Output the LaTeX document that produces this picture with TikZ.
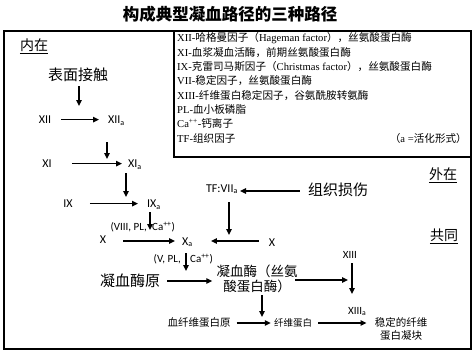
\documentclass[tikz,border=0pt]{standalone}
\usepackage{fontspec}
\setmainfont{Liberation Serif}
\newfontfamily\cjk{Noto Sans CJK SC}
\newfontfamily\labfont{Carlito}
\usetikzlibrary{arrows.meta}
\newcommand\myzh[1]{{\cjk #1}}
\tikzset{
  lab/.style={font=\labfont\fontsize{12}{14}\selectfont, inner sep=0pt},
  big/.style={font=\cjk\fontsize{15}{17}\selectfont, inner sep=0pt},
  mid/.style={font=\cjk\fontsize{13.5}{16}\selectfont, inner sep=0pt, align=center},
  sm/.style={font=\cjk\fontsize{10.5}{14}\selectfont, inner sep=0pt, align=center},
  leg/.style={font=\fontsize{10.6}{13}\selectfont, anchor=west, inner sep=0pt},
  arr/.style={-{Triangle[length=6pt,width=5.5pt]}, line width=1.3pt},
  frame/.style={line width=1.6pt},
  ul/.style={line width=0.6pt},
}
\begin{document}
\begin{tikzpicture}[x=1pt,y=-1pt]
\useasboundingbox (0,0) rectangle (474,356);
% title
\node[font=\cjk\bfseries\fontsize{16.5}{18}\selectfont, inner sep=0pt] (title) at (230,14) {构成典型凝血路径的三种路径};
% frames
\draw[frame] (4,31) rectangle (471,349);
\draw[frame] (174,31) rectangle (471,157);
% legend
\node[leg] (l1) at (177,38) {XII-\myzh{哈格曼因子（}Hageman factor\myzh{），丝氨酸蛋白酶}};
\node[leg] (l2) at (177,52.3) {XI-\myzh{血浆凝血活酶，前期丝氨酸蛋白酶}};
\node[leg] (l3) at (177,66.6) {IX-\myzh{克雷司马斯因子（}Christmas factor\myzh{），丝氨酸蛋白酶}};
\node[leg] (l4) at (177,80.9) {VII-\myzh{稳定因子，丝氨酸蛋白酶}};
\node[leg] (l5) at (177,95.2) {XIII-\myzh{纤维蛋白稳定因子，谷氨酰胺转氨酶}};
\node[leg] (l6) at (177,109.5) {PL-\myzh{血小板磷脂}};
\node[leg] (l7) at (177,123.8) {Ca\textsuperscript{++}-\myzh{钙离子}};
\node[leg] (l8) at (177,138.1) {TF-\myzh{组织因子}};
\node[leg, anchor=east] (l9) at (467,138.1) {\myzh{（}a =\myzh{活化形式）}};
% section labels
\node[big, font=\cjk\fontsize{14}{16}\selectfont] (nz) at (34,45) {内在};
\draw[ul] ([yshift=-1.5pt]nz.south west) -- ([yshift=-1.5pt]nz.south east);
\node[big, font=\cjk\fontsize{14}{16}\selectfont] (wz) at (443,174) {外在};
\draw[ul] ([yshift=-1.5pt]wz.south west) -- ([yshift=-1.5pt]wz.south east);
\node[big, font=\cjk\fontsize{14}{16}\selectfont] (gt) at (444,235) {共同};
\draw[ul] ([yshift=-1.5pt]gt.south west) -- ([yshift=-1.5pt]gt.south east);
% intrinsic
\node[big] (surf) at (78,75) {表面接触};
\coordinate (c1) at (79,106);
\draw[arr] ([yshift=-4pt]surf.south -| c1) -- (c1);
\node[lab, anchor=base] (xii) at (45,123.5) {XII};
\node[lab, anchor=base west] (xiia) at (108,123.5) {XII\textsubscript{a}};
\draw[arr] ([xshift=10pt]xii.east) -- ([xshift=-9pt]xii.east -| xiia.west);
\coordinate (c2) at (107,159);
\draw[arr] (c2 |- 0,142) -- (c2);
\node[lab, anchor=base] (xi) at (47,167.5) {XI};
\node[lab, anchor=base west] (xia) at (128,167.5) {XI\textsubscript{a}};
\draw[arr] ([xshift=20pt]xi.east) -- ([xshift=-6pt]xi.east -| xia.west);
\coordinate (c3) at (126,197);
\draw[arr] (c3 |- 0,173) -- (c3);
\node[lab, anchor=base] (ix) at (68,207.5) {IX};
\node[lab, anchor=base west] (ixa) at (147,207.5) {IX\textsubscript{a}};
\draw[arr] ([xshift=17pt]ix.east) -- ([xshift=-9pt]ix.east -| ixa.west);
\node[lab, anchor=base east, font=\labfont\fontsize{11}{13}\selectfont] (v8) at (147,230) {(VIII, PL,};
\node[lab, anchor=base west, font=\labfont\fontsize{11}{13}\selectfont] (ca1) at (152,230) {Ca\textsuperscript{++})};
\coordinate (c4) at (150,230);
\draw[arr] (c4 |- 0,212) -- (c4);
\node[lab, anchor=base] (xl) at (103,243) {X};
\node[lab, anchor=base west] (xa) at (182,245) {X\textsubscript{a}};
\coordinate (xs) at (123,241);
\draw[arr] (xs) -- ([xshift=-7pt]xs -| xa.west);
\node[lab, anchor=base] (xr) at (272,246) {X};
\draw[arr] ([xshift=-10pt]xr.west |- 0,241) -- ([xshift=18pt]xa.east |- 0,241);
% extrinsic
\node[lab, anchor=base] (tf) at (222,192) {TF:VII\textsubscript{a}};
\node[big] (inj) at (338,190) {组织损伤};
\draw[arr] ([xshift=-8pt]inj.west |- 0,191) -- ([xshift=2pt]tf.east |- 0,191);
\coordinate (c5) at (229,235);
\draw[arr] (c5 |- 0,202) -- (c5);
% common
\node[lab, anchor=base east, font=\labfont\fontsize{11}{13}\selectfont] (v5) at (181,262) {(V, PL,};
\node[lab, anchor=base west, font=\labfont\fontsize{11}{13}\selectfont] (ca2) at (190,262) {Ca\textsuperscript{++})};
\coordinate (c6) at (186,271);
\draw[arr] (c6 |- 0,253) -- (c6);
\node[big] (pro) at (130,281) {凝血酶原};
\node[mid] (thr) at (257,279) {凝血酶（丝氨\\[-1pt]酸蛋白酶）};
\draw[arr] ([xshift=7pt]pro.east |- 0,281) -- ([xshift=-4pt]thr.west |- 0,281);
\node[lab, font=\labfont\fontsize{11}{13}\selectfont] (xiii) at (350,255) {XIII};
\node[lab, anchor=base west, font=\labfont\fontsize{11}{13}\selectfont] (xiiia) at (348,314) {XIII\textsubscript{a}};
\coordinate (c7) at (352,294);
\draw[arr] (c7 |- 0,263) -- (c7);
\coordinate (c8) at (348,280);
\draw[arr] (295,280) -- (c8);
\coordinate (c9) at (262,317);
\draw[arr] (c9 |- 0,295) -- (c9);
\node[sm] (fbg) at (199,323) {血纤维蛋白原};
\node[sm, font=\cjk\fontsize{9.5}{12}\selectfont] (fb) at (293,323) {纤维蛋白};
\node[sm, font=\cjk\fontsize{10.5}{13.5}\selectfont] (clot) at (401,329) {稳定的纤维\\蛋白凝块};
\draw[arr] ([xshift=6pt]fbg.east) -- ([xshift=-3pt]fb.west);
\draw[arr] ([xshift=6pt]fb.east) -- ([xshift=-8pt]fb.east -| clot.west);
\end{tikzpicture}
\end{document}
